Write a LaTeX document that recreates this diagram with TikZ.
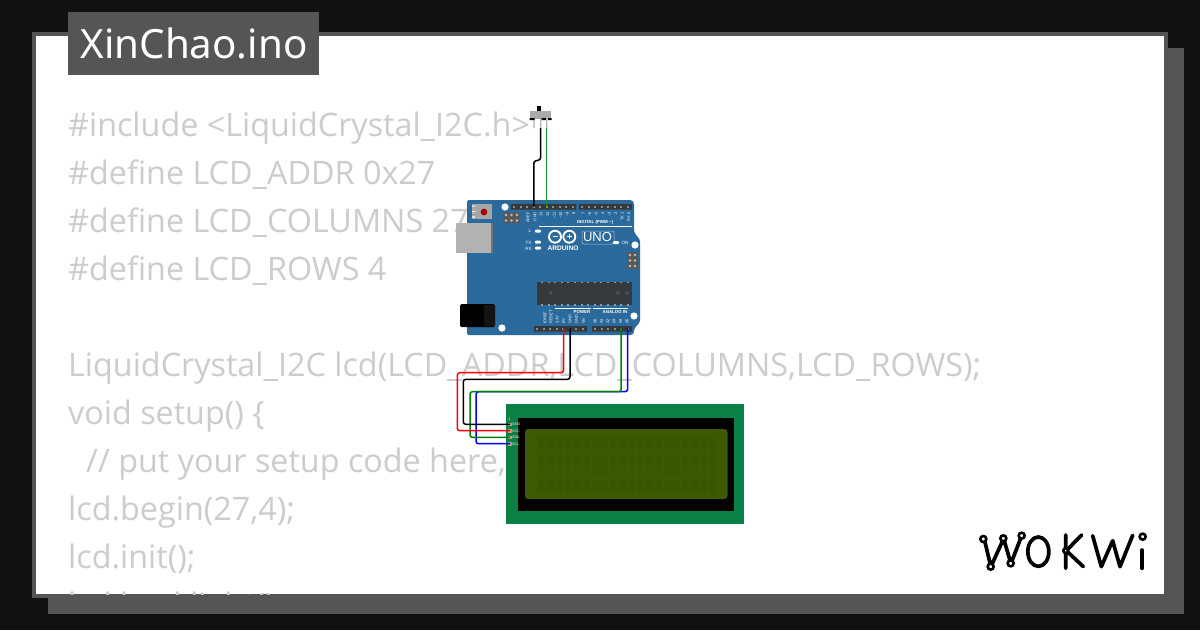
\documentclass[tikz,border=0pt]{standalone}
\usepackage{fontspec}
\setmainfont{Open Sans}
\newfontfamily\titlefont{Noto Sans}
\newfontfamily\boardfont{Liberation Sans}
\definecolor{bgdark}{HTML}{111111}
\definecolor{framegrey}{HTML}{555555}
\definecolor{codegrey}{HTML}{CCCCCC}
\definecolor{boardblue}{HTML}{2A6A9C}
\definecolor{headerdark}{HTML}{35393B}
\definecolor{lcdgreen}{HTML}{0A7F46}
\definecolor{lcdscreen}{HTML}{3E5A00}
\definecolor{lcdcell}{HTML}{3B5600}
\definecolor{wgreen}{HTML}{178F2C}
\tikzset{
  codeline/.style={anchor=base west,inner sep=0pt,text=codegrey,font=\fontsize{32.32}{32}\selectfont},
  wire/.style={line width=1.5pt,rounded corners=2.5pt},
  pinlabel/.style={rotate=90,anchor=east,inner sep=0pt,text=white,font=\boardfont\fontsize{4}{4}\selectfont},
  boardtext/.style={inner sep=0pt,text=white,font=\boardfont\bfseries\fontsize{4.4}{4.4}\selectfont},
  lcdpinlabel/.style={anchor=west,inner sep=0pt,text=white,font=\boardfont\fontsize{3.6}{3.6}\selectfont},
  logoline/.style={line width=3.7pt,line cap=round,line join=round,draw=black},
  logoring/.style={line width=2.6pt,draw=black,fill=white},
  ledmark/.style={fill=white,rounded corners=1pt}
}
\begin{document}
\begin{tikzpicture}[x=1pt,y=-1pt]
\useasboundingbox (0,0) rectangle (1200,630);
% page
\fill[bgdark] (0,0) rectangle (1200,630);
\fill[framegrey] (48,48) rectangle (1184,614);
\fill[framegrey] (32,32) rectangle (1168,598);
\fill[white] (36,36) rectangle (1164,594);
% code
\begin{scope}
\clip (36,36) rectangle (1164,594);
\node[codeline] (c0) at (68,136) {\#include <LiquidCrystal\_I2C.h>};
\node[codeline] (c1) at (68,184) {\#define LCD\_ADDR 0x27};
\node[codeline] (c2) at (68,232) {\#define LCD\_COLUMNS 27};
\node[codeline] (c3) at (68,280) {\#define LCD\_ROWS 4};
\node[codeline] (c5) at (68,376) {LiquidCrystal\_I2C lcd(LCD\_ADDR,LCD\_COLUMNS,LCD\_ROWS);};
\node[codeline] (c6) at (68,424) {void setup() \{};
\node[codeline] (c7) at (86,472) {// put your setup code here,};
\node[codeline] (c8) at (68,520) {lcd.begin(27,4);};
\node[codeline] (c9) at (68,568) {lcd.init();};
\node[codeline] (c10) at (68,616) {lcd.backlight();};
\end{scope}
% title
\fill[framegrey] (68,12) rectangle (319,75);
\node[anchor=base west,inner sep=0pt,text=white,font=\titlefont\fontsize{40.3}{40}\selectfont] (title) at (80.5,58) {XinChao.ino};
% Arduino board
\fill[boardblue,rounded corners=1.5pt] (467,200) -- (632,200) -- (634,203) -- (634,232) -- (640,240) -- (640,322) -- (634,329) -- (634,333) -- (632,335) -- (467,335) -- cycle;
\fill[white] (505,207) circle (3.6) (635,245) circle (3.6) (634,316) circle (3.6) (502,328) circle (3.6);
% USB + jack
\fill[white!70!black] (456,223) rectangle (493,253);
\fill[white!45!black] (491,223) rectangle (493,253);
\fill[black,rounded corners=1.5pt] (460,304) rectangle (495,327);
\fill[white!8!black] (484,305) rectangle (495,326);
% reset
\fill[white!65!black] (472,204) rectangle (492,219);
\fill[white] (472,205.5) rectangle (475,206.7) (472,211) rectangle (475,212.2) (472,216.3) rectangle (475,217.5);
\fill[red!65!black] (484,212) circle (3.4);
% headers
\fill[headerdark] (511,204) rectangle (576,209.5) (579,204) rectangle (632,209.5)
  (534,326) rectangle (587,331.5) (592,326) rectangle (632,331.5);
\foreach \s/\n in {514.25/10,582.25/8}
  \foreach \i in {1,...,\n}
    \fill[white!55!black] ({\s+(\i-1)*6.5-1.1},205.8) rectangle ({\s+(\i-1)*6.5+1.1},207.8);
\foreach \s/\n in {537.25/8,595.25/6}
  \foreach \i in {1,...,\n}
    \fill[white!55!black] ({\s+(\i-1)*6.5-1.1},327.8) rectangle ({\s+(\i-1)*6.5+1.1},329.8);
% ICSP
\fill[white!35!black] (503,212.5) rectangle (520,223) (627,252) rectangle (638,269);
\foreach \x in {506,511.5,517} \foreach \y in {215,220.5}
  \fill[white!75!black] (\x,\y) circle (1.3);
\foreach \x in {630,635} \foreach \y in {255,260.5,266}
  \fill[white!75!black] (\x,\y) circle (1.3);
% chip
\fill[headerdark] (537,282) rectangle (632,305);
\foreach \i in {0,...,13} {
  \fill[white!60!black] ({541+\i*6.6},281.5) rectangle ({543+\i*6.6},283);
  \fill[white!60!black] ({541+\i*6.6},304) rectangle ({543+\i*6.6},305.5);
}
\fill[black!70] (550.7,293) circle (2) (618,293) circle (2) (627,293) circle (2);
% logo
\draw[white,line width=1.9pt] (555,236.7) circle (6) (569.3,236.7) circle (6);
\draw[white,line width=1pt] (552.5,236.7) -- (557.5,236.7) (566.8,236.7) -- (571.8,236.7) (569.3,234.2) -- (569.3,239.2);
\node[boardtext,font=\boardfont\bfseries\fontsize{6.6}{6.6}\selectfont] (ardname) at (563,248.5) {ARDUINO};
\draw[white!60!boardblue,line width=.5pt,rounded corners=2pt] (582,231) rectangle (614,244);
\node[inner sep=0pt,text=white,font=\boardfont\fontsize{13}{13}\selectfont] (uno) at (597.5,237) {UNO};
% LEDs
\fill[ledmark] (535,229.5) rectangle (541,232.5) (535,240.5) rectangle (541,243.5) (535,246.5) rectangle (541,249.5) (613,241.2) rectangle (619,244.2);
\node[boardtext,font=\boardfont\fontsize{4.6}{4.6}\selectfont] (ll) at (530,231) {L};
\node[boardtext,font=\boardfont\fontsize{4.6}{4.6}\selectfont] (ltx) at (528.5,243) {TX};
\node[boardtext,font=\boardfont\fontsize{4.6}{4.6}\selectfont] (lrx) at (528.5,248.5) {RX};
\node[boardtext,font=\boardfont\fontsize{4.6}{4.6}\selectfont] (lon) at (625,243) {ON};
% board labels
\foreach \nm/\x/\t in {a/528/AREF,b/535/GND,c/541/13,d/547.7/12,e/554.2/\textasciitilde 11,f/560.7/\textasciitilde 10,g/567.2/\textasciitilde 9,h/573.7/8,i/583.3/7,j/589.8/\textasciitilde 6,k/596.3/\textasciitilde 5,l/602.8/4,m/609.3/\textasciitilde 3,n/615.8/2,o/622.3/TX 1,p/628.8/RX 0}
  \node[pinlabel] (top\nm) at (\x,212) {\t};
\node[boardtext] (digital) at (595,222) {DIGITAL (PWM \textasciitilde)};
\draw[white,line width=.4pt] (539,226) -- (632,226);
\foreach \nm/\x/\t in {a/545/IOREF,b/551/RESET,c/557.3/3.3V,d/563.5/5V,e/570/GND,f/576.5/GND,g/583.3/Vin,h/595/A0,i/601.5/A1,j/608/A2,k/614/A3,l/620.5/A4,m/627/A5}
  \node[pinlabel,anchor=west] (bot\nm) at (\x,324) {\t};
\node[boardtext] (power) at (582,312) {POWER};
\node[boardtext] (analog) at (615,312) {ANALOG IN};
\draw[white,line width=.4pt] (555,308.3) -- (591,308.3) (592.5,308.3) -- (628,308.3);
% LCD
\fill[lcdgreen] (506,404) rectangle (743.5,523.5);
\fill[black] (518,418) rectangle (734,511);
\fill[lcdscreen,rounded corners=3pt] (525,429) rectangle (727.5,499);
\foreach \c in {0,...,19} \foreach \r in {0,...,3}
  \fill[lcdcell] ({537.5+\c*9},{436+\r*14.6}) rectangle ({545+\c*9},{449+\r*14.6});
\foreach \y in {424.5,431,437.5,444}
  \fill[black!25!brown!60!white] (507.5,\y-1.8) rectangle (511.5,\y+1.8);
\node[lcdpinlabel] (lcd1) at (508.3,419) {1};
\node[lcdpinlabel] (lgnd) at (512,424.7) {GND};
\node[lcdpinlabel] (lvcc) at (512,431) {VCC};
\node[lcdpinlabel] (lsda) at (512,437.7) {SDA};
\node[lcdpinlabel] (lscl) at (512,444) {SCL};
% switch
\fill[white!70!black] (533.3,119) rectangle (534.7,128) (540,119) rectangle (541.4,128) (546,119) rectangle (547.4,128);
\fill[black] (537.3,106) rectangle (540.8,111.5);
\fill[white!67!black] (530,111) rectangle (551,119);
\fill[black] (529.7,118) rectangle (534.5,120) (541.5,118) rectangle (545.8,120) (548,118) rectangle (551.5,120);
% connection points
\coordinate (swA) at (540.6,128);
\coordinate (swB) at (546.7,128);
\coordinate (pGND1) at (533.75,206.5);
\coordinate (p12) at (546.7,206.5);
\coordinate (p5V) at (563.6,328);
\coordinate (pGND2) at (570,328);
\coordinate (pA4) at (621.2,328);
\coordinate (pA5) at (627.6,328);
\coordinate (lcdGND) at (510,424.3);
\coordinate (lcdVCC) at (510,430.7);
\coordinate (lcdSDA) at (510,437.3);
\coordinate (lcdSCL) at (510,443.7);
% wires
\draw[wire,black] (swA) -- (540.6,160) -- (533.75,161) -- (pGND1);
\draw[wire,wgreen] (swB) -- (p12);
\draw[wire,blue] (pA5) -- (627.6,391.7) -- (476,391.7) -- (476,443.7) -- (lcdSCL);
\draw[wire,green!50!black] (pA4) -- (621.2,391.7) -- (470,391.7) -- (470,437.3) -- (lcdSDA);
\draw[wire,black] (pGND2) -- (570,379.3) -- (463.3,379.3) -- (463.3,424.3) -- (lcdGND);
\draw[wire,red] (p5V) -- (563.6,372.7) -- (457.3,372.7) -- (457.3,430.7) -- (lcdVCC);
% Wokwi mark
\begin{scope}[shift={(970,520)},x=0.3333pt,y=-0.3333pt]
\draw[logoline] (44,62) -- (62,138) (65,135) -- (99,60) (102,60) -- (122,128) (125,125) -- (154,50);
\draw[logoring] (40,57) circle (9) (100,55) circle (9) (155,47) circle (9) (62,140) circle (9) (122,130) circle (9);
\draw[logoline] (205,95) ellipse (10.5pt and 14.7pt);
\draw[logoline] (287,45) -- (287,145) (289,92) -- (335,45) (289,92) -- (340,140);
\draw[logoring] (287,92) circle (7);
\draw[logoline] (368,47) -- (394,140) -- (428,62) -- (450,140) -- (488,46);
\draw[logoline] (516,90) -- (516,145);
\draw[logoring] (518,50) circle (9);
\end{scope}
\end{tikzpicture}
\end{document}
